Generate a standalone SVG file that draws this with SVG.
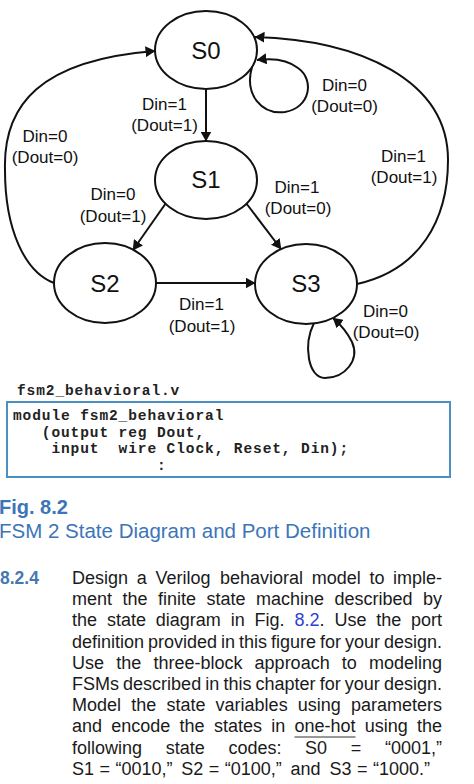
<svg xmlns="http://www.w3.org/2000/svg" width="474" height="784" viewBox="0 0 474 784">
<style>
  .st ellipse { fill: #fff; stroke: #111; stroke-width: 2; }
  .st text { font-family: "Liberation Sans", Arial, sans-serif; font-size: 24px; fill: #111; text-anchor: middle; }
  .edge { fill: none; stroke: #111; stroke-width: 2; marker-end: url(#ah); }
  .lbl { font-family: "Liberation Sans", Arial, sans-serif; font-size: 17px; fill: #111; text-anchor: middle; }
  .code { font-family: "Liberation Mono", "Courier New", monospace; font-weight: bold; font-size: 14.5px; letter-spacing: 0.9px; fill: #222; }
  .cap { font-family: "Liberation Sans", Arial, sans-serif; fill: #3b75b8; }
  .body { font-family: "Liberation Sans", Arial, sans-serif; font-size: 18px; fill: #1a1a1a; }
</style>
<defs>
  <marker id="ah" viewBox="0 0 10 11" markerWidth="10" markerHeight="11" refX="9.5" refY="5.5" orient="auto" markerUnits="userSpaceOnUse">
    <path d="M0,0 L10,5.5 L0,11 z" fill="#111"/>
  </marker>
</defs>
<rect width="474" height="784" fill="#fff"/>

<g id="connectors">
  <g id="e-s0-s1">
    <path class="edge" d="M206,89 L206,141"/>
    <text class="lbl" x="164.5" y="110">Din=1</text>
    <text class="lbl" x="164.5" y="131">(Dout=1)</text>
  </g>
  <g id="e-s0-s0">
    <path class="edge" d="M252,67 C244,95 262,115 285,112 C310,108 315,80 298,68 C288,60 272,58 257,60"/>
    <text class="lbl" x="344.5" y="91">Din=0</text>
    <text class="lbl" x="344.5" y="112">(Dout=0)</text>
  </g>
  <g id="e-s2-s0">
    <path class="edge" d="M54,283 C25,272 5,230 5,170 C3,105 40,60 155,51"/>
    <text class="lbl" x="45" y="142">Din=0</text>
    <text class="lbl" x="45" y="163">(Dout=0)</text>
  </g>
  <g id="e-s3-s0">
    <path class="edge" d="M357,284 C420,270 448,220 448,160 C448,80 360,40 255,37"/>
    <text class="lbl" x="403.5" y="162">Din=1</text>
    <text class="lbl" x="404" y="183">(Dout=1)</text>
  </g>
  <g id="e-s1-s2">
    <path class="edge" d="M166,203 L133,250"/>
    <text class="lbl" x="113" y="200">Din=0</text>
    <text class="lbl" x="113" y="222">(Dout=1)</text>
  </g>
  <g id="e-s1-s3">
    <path class="edge" d="M246,203 L281,249"/>
    <text class="lbl" x="297" y="193">Din=1</text>
    <text class="lbl" x="298" y="214">(Dout=0)</text>
  </g>
  <g id="e-s2-s3">
    <path class="edge" d="M156,283 L255,283"/>
    <text class="lbl" x="201.5" y="310">Din=1</text>
    <text class="lbl" x="202" y="332">(Dout=1)</text>
  </g>
  <g id="e-s3-s3">
    <path class="edge" d="M314,323 C303,345 308,378 325,378 C345,378 360,360 352,342 C347,332 340,324 333,318"/>
    <text class="lbl" x="385.5" y="317">Din=0</text>
    <text class="lbl" x="386" y="338">(Dout=0)</text>
  </g>
</g>

<g id="S0" class="st"><ellipse cx="206" cy="50" rx="51" ry="39"/><text x="206" y="59">S0</text></g>
<g id="S1" class="st"><ellipse cx="206" cy="180" rx="51" ry="39"/><text x="206" y="188">S1</text></g>
<g id="S2" class="st"><ellipse cx="105" cy="283" rx="51" ry="40"/><text x="105" y="292">S2</text></g>
<g id="S3" class="st"><ellipse cx="306" cy="284" rx="51" ry="40"/><text x="306" y="292">S3</text></g>

<g id="code">
  <text class="code" x="17" y="395">fsm2_behavioral.v</text>
  <rect x="7" y="402" width="443" height="75" fill="#fff" stroke="#4a90c4" stroke-width="2"/>
  <text class="code" x="13" y="420" xml:space="preserve">module fsm2_behavioral</text>
  <text class="code" x="13" y="436.5" xml:space="preserve">   (output reg Dout,</text>
  <text class="code" x="13" y="453" xml:space="preserve">    input  wire Clock, Reset, Din);</text>
  <text class="code" x="13" y="469.5" xml:space="preserve">               :</text>
</g>

<g id="caption">
  <text class="cap" x="-1" y="514" font-size="20" font-weight="bold">Fig. 8.2</text>
  <text class="cap" x="-1" y="538" font-size="20.5">FSM 2 State Diagram and Port Definition</text>
</g>

<g id="paragraph">
  <text x="0" y="584" font-family="Liberation Sans, Arial, sans-serif" font-size="17.5" font-weight="bold" fill="#4677b0">8.2.4</text>
  <text class="body" y="584"><tspan x="72">Design</tspan><tspan x="136.7">a</tspan><tspan x="155.4">Verilog</tspan><tspan x="220">behavioral</tspan><tspan x="311.7">model</tspan><tspan x="369.4">to</tspan><tspan x="393.1">imple-</tspan></text>
  <text class="body" y="605.2"><tspan x="72">ment</tspan><tspan x="122.5">the</tspan><tspan x="158">finite</tspan><tspan x="206.5">state</tspan><tspan x="256">machine</tspan><tspan x="334.5">described</tspan><tspan x="423">by</tspan></text>
  <text class="body" y="626.4"><tspan x="72">the</tspan><tspan x="106.9">state</tspan><tspan x="155.8">diagram</tspan><tspan x="230.7">in</tspan><tspan x="254.6">Fig.</tspan><tspan x="294.5" fill="#2f3fd0">8.2</tspan><tspan>.</tspan><tspan x="334.4">Use</tspan><tspan x="376.2">the</tspan><tspan x="411.1">port</tspan></text>
  <text class="body" y="647.6"><tspan x="72">definition</tspan><tspan x="148">provided</tspan><tspan x="221">in</tspan><tspan x="239">this</tspan><tspan x="271">figure</tspan><tspan x="320">for</tspan><tspan x="345">your</tspan><tspan x="384">design.</tspan></text>
  <text class="body" y="668.8"><tspan x="72">Use</tspan><tspan x="116.2">the</tspan><tspan x="153.4">three-block</tspan><tspan x="254.6">approach</tspan><tspan x="341.8">to</tspan><tspan x="369">modeling</tspan></text>
  <text class="body" y="690"><tspan x="72">FSMs</tspan><tspan x="123.1">described</tspan><tspan x="205.3">in</tspan><tspan x="223.4">this</tspan><tspan x="255.5">chapter</tspan><tspan x="319.7">for</tspan><tspan x="344.8">your</tspan><tspan x="383.9">design.</tspan></text>
  <text class="body" y="711.2"><tspan x="72">Model</tspan><tspan x="131.2">the</tspan><tspan x="166.4">state</tspan><tspan x="215.6">variables</tspan><tspan x="297.8">using</tspan><tspan x="351">parameters</tspan></text>
  <text class="body" y="732.4"><tspan x="72">and</tspan><tspan x="111.3">encode</tspan><tspan x="179.6">the</tspan><tspan x="213.9">states</tspan><tspan x="271.2">in</tspan><tspan x="294.5">one-hot</tspan><tspan x="364.8">using</tspan><tspan x="417">the</tspan></text>
  <line x1="294.5" y1="737" x2="355.5" y2="737" stroke="#333" stroke-width="1.2"/>
  <text class="body" y="753.6"><tspan x="72">following</tspan><tspan x="165.7">state</tspan><tspan x="228.4">codes:</tspan><tspan x="305.1">S0</tspan><tspan x="350.8">=</tspan><tspan x="385">“0001,”</tspan></text>
  <text class="body" y="774.8"><tspan x="72">S1</tspan><tspan x="99.5">=</tspan><tspan x="115.5">“0010,”</tspan><tspan x="181.3">S2</tspan><tspan x="208.8">=</tspan><tspan x="224.8">“0100,”</tspan><tspan x="290.6">and</tspan><tspan x="329.4">S3</tspan><tspan x="356.9">=</tspan><tspan x="372.9">“1000.”</tspan></text>
</g>
</svg>
